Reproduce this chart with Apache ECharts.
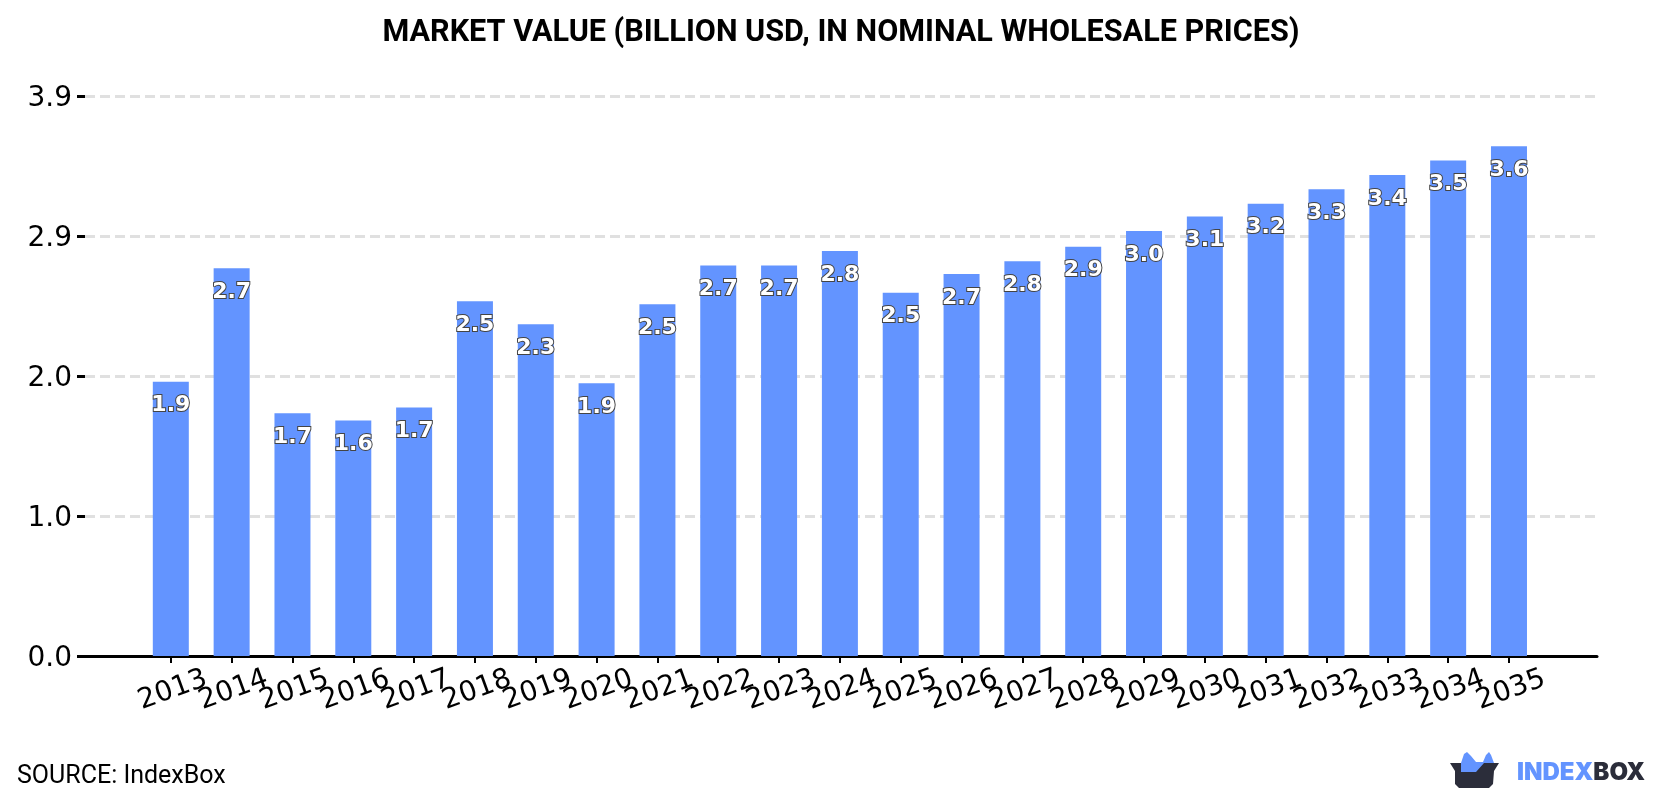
<!DOCTYPE html>
<html>
<head>
<meta charset="utf-8">
<title>Market value</title>
<script src="https://cdn.jsdelivr.net/npm/echarts@6/dist/echarts.min.js"></script>
<style>
  html, body { margin: 0; padding: 0; background: #fff; }
  #chart { width: 1680px; height: 800px; }
</style>
</head>
<body>
<div id="chart"></div>
<script>
// Market value, billion USD, actuals and forecast through 2035
const years = ['2013','2014','2015','2016','2017','2018','2019','2020','2021','2022','2023','2024',
               '2025','2026','2027','2028','2029','2030','2031','2032','2033','2034','2035'];
const marketValue = [1.91, 2.70, 1.69, 1.64, 1.73, 2.47, 2.31, 1.90, 2.45, 2.72, 2.72, 2.82,
                     2.53, 2.66, 2.75, 2.85, 2.96, 3.06, 3.15, 3.25, 3.35, 3.45, 3.55];
const yTickLabels = ['0.0', '1.0', '2.0', '2.9', '3.9'];
const yMax = 3.9;
const yStep = 0.975;

const BLUE = '#6394FF';
const INK = '#2B2D3A';

// Round half up so that 3.55 prints as 3.6
const oneDecimal = v => (Math.round(v * 10 + 1e-6) / 10).toFixed(1);

const chart = echarts.init(document.getElementById('chart'), null, { renderer: 'canvas' });

chart.setOption({
  animation: false,
  backgroundColor: '#fff',
  title: {
    text: 'MARKET VALUE (BILLION USD, IN NOMINAL WHOLESALE PRICES)',
    left: 836, top: 13, textAlign: 'center',
    textStyle: { fontFamily: 'Roboto', fontWeight: 'bold', fontSize: 30.6, color: '#000' }
  },
  // Outer grid carries the gridlines and baseline, inner grid carries the bars
  grid: [
    { left: 85, right: 83, top: 96.5, height: 560 },
    { left: 140.4, width: 1399, top: 96, height: 560 }
  ],
  xAxis: [
    {
      gridIndex: 0, type: 'value', min: 0, max: 1,
      axisLine: { show: true, lineStyle: { color: '#000', width: 3 } },
      axisTick: { show: false }, axisLabel: { show: false }, splitLine: { show: false }
    },
    {
      gridIndex: 1, type: 'category', data: years,
      axisLine: { show: false },
      axisTick: { show: true, alignWithLabel: true, length: 7, lineStyle: { color: '#000', width: 2 } },
      axisLabel: {
        interval: 0, rotate: 20, margin: 20, align: 'center', verticalAlign: 'top',
        padding: [0, 6, 0, 0],
        fontFamily: 'DejaVu Sans', fontSize: 28, color: '#000'
      }
    }
  ],
  yAxis: [
    {
      gridIndex: 0, type: 'value', min: 0, max: yMax, interval: yStep,
      axisLine: { show: false },
      axisTick: { show: true, length: 8, lineStyle: { color: '#000', width: 3 } },
      axisLabel: {
        margin: 13,
        formatter: (v) => '{tick|' + yTickLabels[Math.round(v / yStep)] + '}',
        rich: {
          // Extra room above the digits sets them slightly below the tick
          tick: { padding: [4, 0, 0, 0], fontFamily: 'DejaVu Sans', fontSize: 28, color: '#000' }
        }
      },
      splitLine: { show: true, lineStyle: { color: '#E0E0E0', width: 3, type: [10, 5] } }
    },
    {
      gridIndex: 1, type: 'value', min: 0, max: yMax, interval: yStep, show: false,
      splitLine: { show: false }
    }
  ],
  series: [{
    type: 'bar',
    xAxisIndex: 1, yAxisIndex: 1,
    data: marketValue,
    barWidth: 36,
    itemStyle: { color: BLUE },
    label: {
      show: true, position: 'insideTop', distance: 13,
      fontFamily: 'DejaVu Sans', fontWeight: 'bold', fontSize: 22,
      color: '#fff', textBorderColor: '#444', textBorderWidth: 2,
      formatter: p => oneDecimal(p.value)
    }
  }],
  graphic: [
    {
      type: 'text', left: 17, top: 764,
      style: { text: 'SOURCE: IndexBox', fontFamily: 'Roboto', fontSize: 25, fill: '#000' }
    },
    // IndexBox mark: open box with the blue flaps rising out of it
    {
      type: 'polygon',
      shape: { points: [[1461,763],[1464,754],[1467,752],[1471,756],[1476,762],[1483,762],[1486,755],[1489,752],[1491,755],[1494,763],[1482,773],[1461,773]] },
      style: { fill: BLUE }
    },
    {
      type: 'polygon',
      shape: { points: [[1450,763],[1461,763],[1461,772],[1476,772],[1484,763],[1499,763],[1494,771],[1493,784],[1489,788],[1459,788],[1455,784],[1455,771]] },
      style: { fill: INK }
    },
    {
      type: 'text', left: 1517, top: 761,
      style: {
        rich: {
          a: { fontFamily: 'Inter', fontWeight: 900, fontSize: 24, fill: BLUE, color: BLUE },
          b: { fontFamily: 'Inter', fontWeight: 900, fontSize: 24, fill: INK, color: INK }
        },
        text: '{a|INDEX}{b|BOX}'
      }
    }
  ]
});
</script>
</body>
</html>
